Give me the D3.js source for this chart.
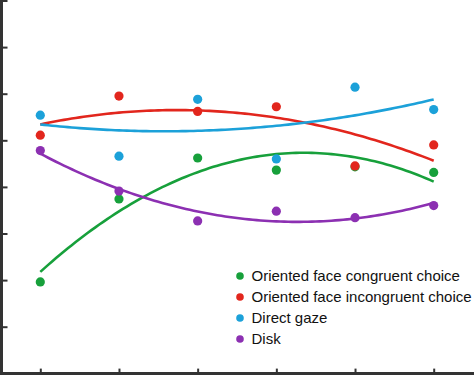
<!DOCTYPE html>
<html>
<head>
<meta charset="utf-8">
<script src="https://cdn.jsdelivr.net/npm/d3@7"></script>
<style>
html,body{margin:0;padding:0;background:#fff;}
svg{display:block;}
</style>
</head>
<body>
<svg id="chart" width="474" height="375"></svg>
<script>
// ---- data (y in arbitrary axis units, ticks every 1) ----
const categories = [1, 2, 3, 4, 5, 6];
const yTicks = [1, 2, 3, 4, 5, 6, 7, 8];
const seriesNames = [
  "Oriented face congruent choice",
  "Oriented face incongruent choice",
  "Direct gaze",
  "Disk"
];
const congruent   = [1.96, 3.74, 4.62, 4.36, 4.43, 4.31];
const incongruent = [5.11, 5.95, 5.62, 5.72, 4.45, 4.90];
const directGaze  = [5.54, 4.66, 5.88, 4.60, 6.14, 5.66];
const disk        = [4.78, 3.91, 3.27, 3.48, 3.34, 3.60];
const colors = ["#17a03b", "#e2261d", "#1ca1d9", "#8c30b2"];

const series = [congruent, incongruent, directGaze, disk].map((v, i) => ({
  name: seriesNames[i], values: v, color: colors[i]
}));

// ---- least-squares quadratic trend from the data ----
function quadFit(xs, ys) {
  const n = xs.length;
  let s = [0,0,0,0,0], t = [0,0,0];
  for (let i = 0; i < n; i++) {
    const x = xs[i], y = ys[i];
    for (let k = 0; k < 5; k++) s[k] += Math.pow(x, k);
    for (let k = 0; k < 3; k++) t[k] += y * Math.pow(x, k);
  }
  const M = [[s[0], s[1], s[2], t[0]], [s[1], s[2], s[3], t[1]], [s[2], s[3], s[4], t[2]]];
  for (let c = 0; c < 3; c++) {
    for (let r = c + 1; r < 3; r++) {
      const f = M[r][c] / M[c][c];
      for (let k = c; k < 4; k++) M[r][k] -= f * M[c][k];
    }
  }
  const b = [0,0,0];
  for (let r = 2; r >= 0; r--) {
    let v = M[r][3];
    for (let k = r + 1; k < 3; k++) v -= M[r][k] * b[k];
    b[r] = v / M[r][r];
  }
  return x => b[0] + b[1] * x + b[2] * x * x;
}

// ---- layout ----
const svg = d3.select("#chart");
const x = d3.scaleLinear().domain([1, 6]).range([40.3, 433.7]);
const y = d3.scaleLinear().domain([0, 8]).range([373.3, 0.5]);

// axes
const yAxis = svg.append("g").attr("transform", "translate(1.5,0)")
  .call(d3.axisLeft(y).tickValues(yTicks).tickSize(-6).tickSizeOuter(0).tickFormat(""));
const xAxis = svg.append("g").attr("transform", "translate(0,373.6)")
  .call(d3.axisBottom(x).tickValues(categories).tickSize(-5).tickSizeOuter(0).tickFormat(""));
[yAxis, xAxis].forEach(g => {
  g.select(".domain").attr("stroke", "#333").attr("stroke-width", 3);
  g.selectAll(".tick line").attr("stroke", "#333").attr("stroke-width", 2);
});
yAxis.select(".domain").attr("d", "M0,0V375");
xAxis.select(".domain").attr("d", "M-2,0H474");

// fitted curves
const line = d3.line().x(d => x(d[0])).y(d => y(d[1]));
series.forEach(s => {
  const f = quadFit(categories, s.values);
  const pts = d3.range(0, 101).map(i => {
    const xv = 1 + 5 * i / 100;
    return [xv, f(xv)];
  });
  svg.append("path").datum(pts)
    .attr("d", line)
    .attr("fill", "none")
    .attr("stroke", s.color)
    .attr("stroke-width", 2.6);
});

// points
series.forEach(s => {
  svg.append("g").selectAll("circle")
    .data(s.values)
    .join("circle")
    .attr("cx", (d, i) => x(categories[i]))
    .attr("cy", d => y(d))
    .attr("r", 4.6)
    .attr("fill", s.color);
});

// legend
const legend = svg.append("g");
const ly = d3.scalePoint().domain(seriesNames).range([276, 339]);
series.forEach(s => {
  legend.append("circle").attr("cx", 240).attr("cy", ly(s.name)).attr("r", 3.8).attr("fill", s.color);
  legend.append("text").attr("x", 251.5).attr("y", ly(s.name) + 5.4)
    .attr("font-family", "Liberation Sans, Arial, Helvetica, sans-serif")
    .attr("font-size", 15).attr("fill", "#111")
    .text(s.name);
});
</script>
</body>
</html>
